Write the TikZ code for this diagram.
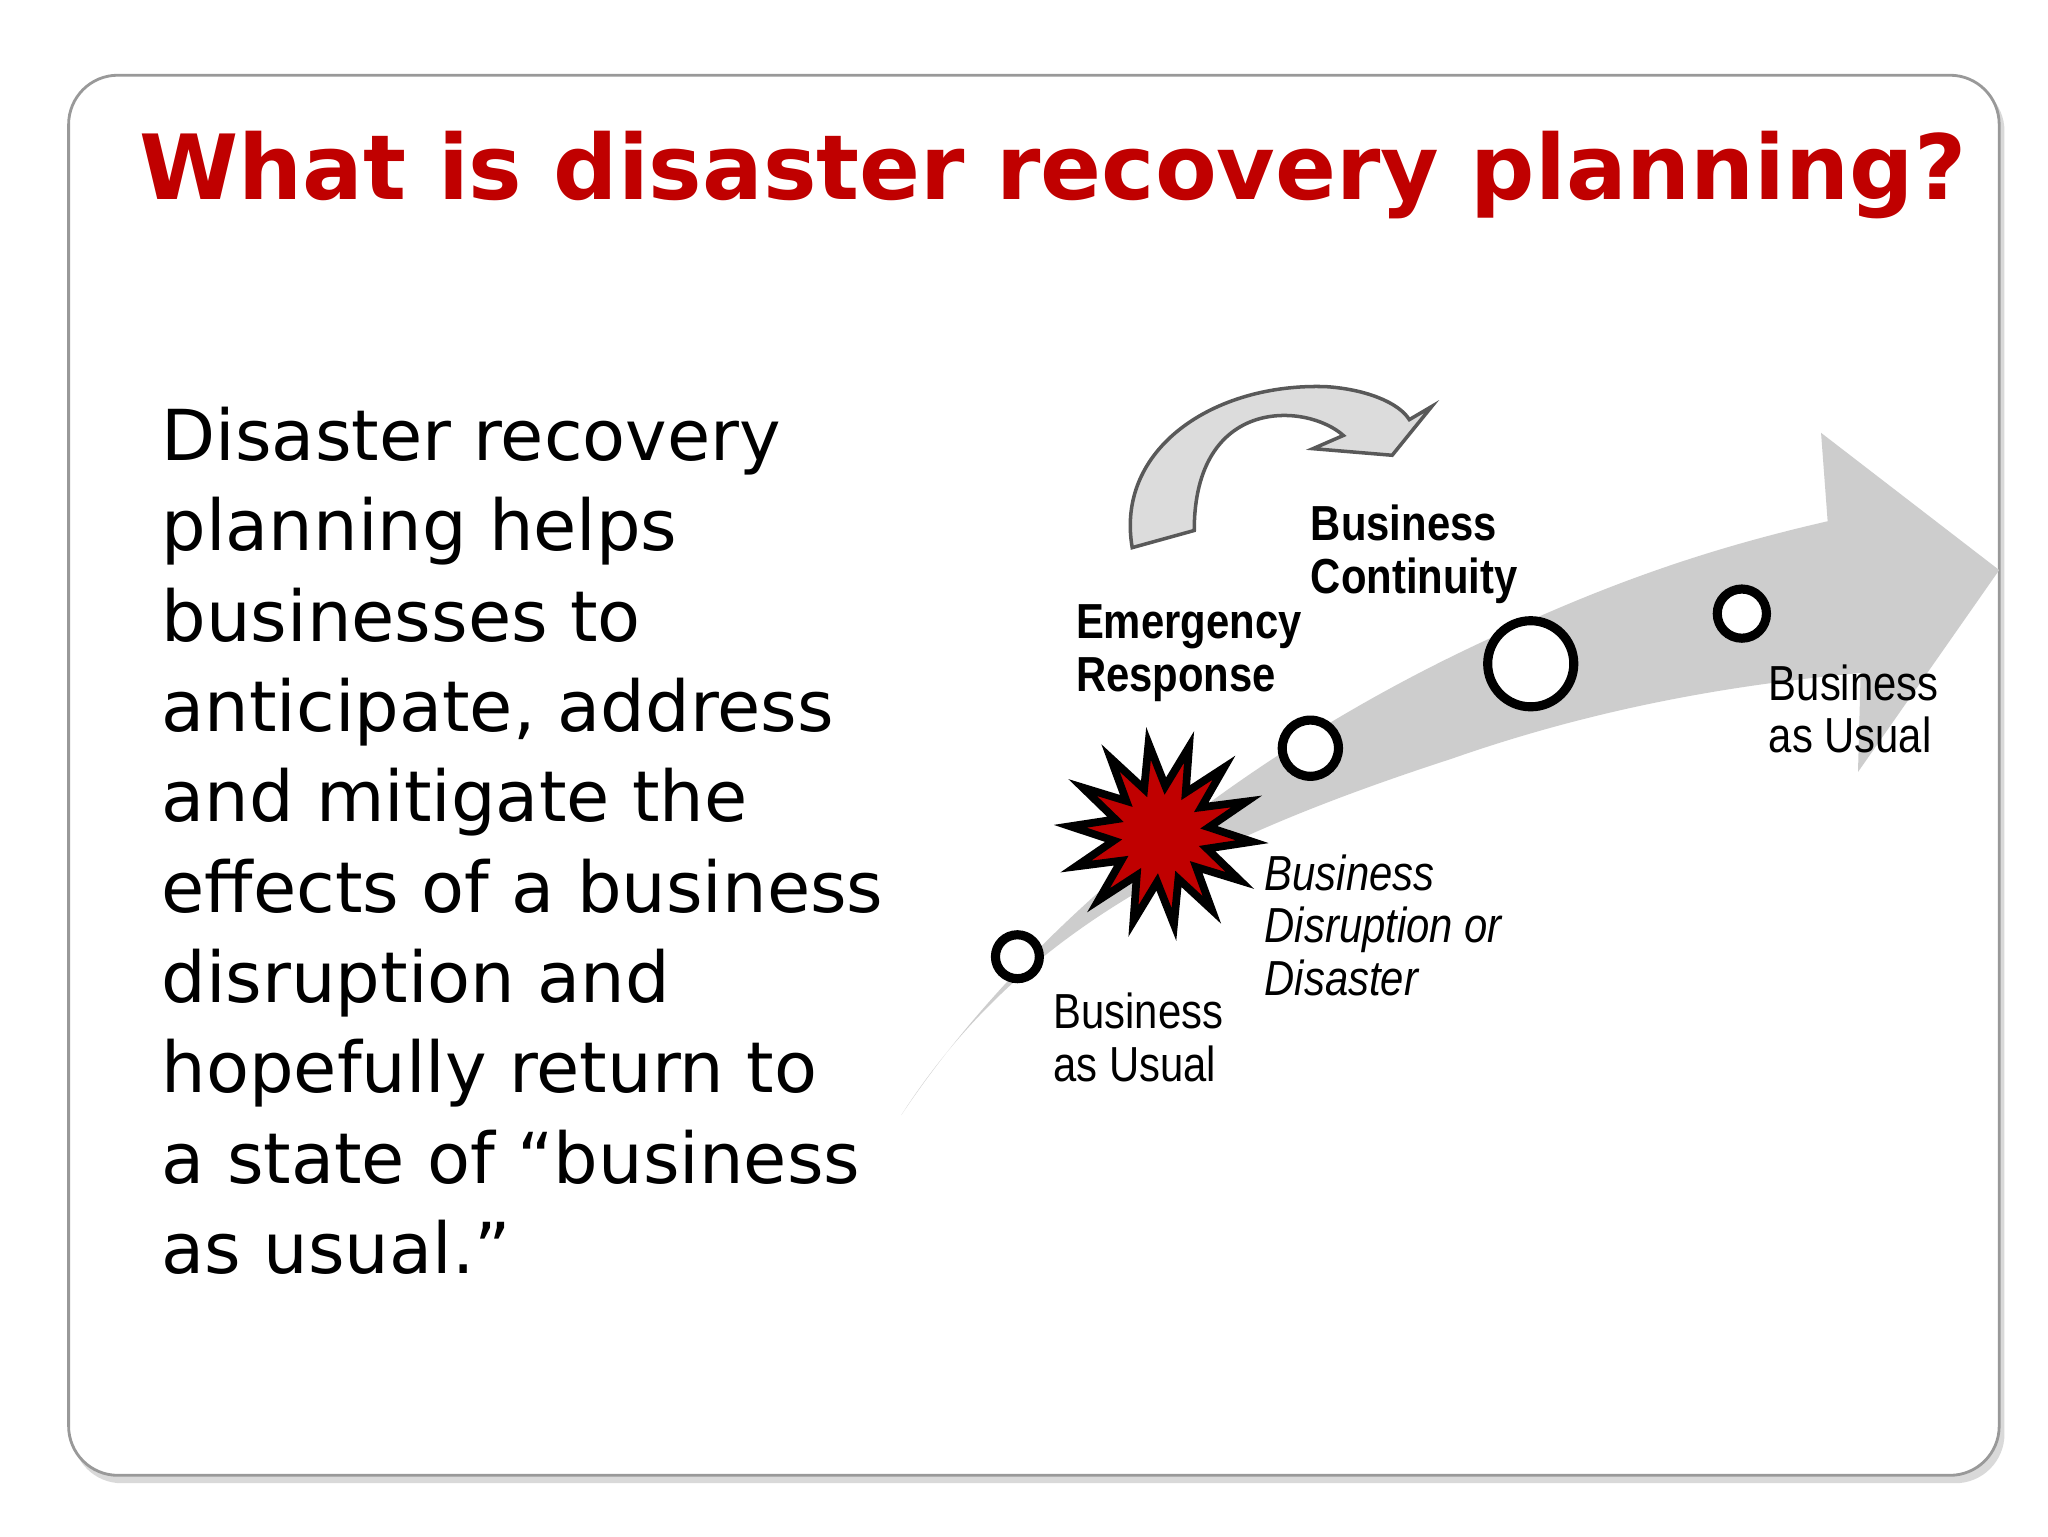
\documentclass[tikz,border=0pt]{standalone}
\usepackage{fontspec}
\setmainfont{DejaVu Sans}
\newfontfamily\lab{Liberation Sans}
\usetikzlibrary{shapes.geometric}
\definecolor{tred}{RGB}{192,0,0}
\definecolor{agray}{RGB}{205,205,205}
\tikzset{lbl/.style={anchor=north west,align=left,inner sep=0pt,font=\lab\fontsize{14pt}{15pt}\selectfont,xscale=0.85},
ring/.style={draw=black,line width=2.6pt,fill=white,circle,inner sep=0pt}}
\begin{document}
\begin{tikzpicture}[x=0.013196cm,y=-0.013196cm]
\useasboundingbox (0,0) rectangle (1552,1164);
\fill[white] (0,0) rectangle (1552,1164);
\fill[gray!30,rounded corners=14] (55,62) rectangle (1519,1124);
\draw[gray!80,fill=white,rounded corners=14,line width=0.8pt] (52,57) rectangle (1515,1118);
\node[font=\bfseries\fontsize{25.6pt}{30pt}\selectfont,text=tred,inner sep=0pt] (title) at (798,133) {What is disaster recovery planning?};
\node[anchor=north west,align=left,inner sep=0pt,font=\fontsize{20pt}{25.7pt}\selectfont] (body) at (122,308)
{Disaster recovery\\planning helps\\businesses to\\anticipate, address\\and mitigate the\\effects of a business\\disruption and\\hopefully return to\\a state of “business\\as usual.”};
% big arrow
\fill[agray] (683,845) .. controls (780,700) and (950,560) .. (1160,470)
 .. controls (1250,430) and (1320,410) .. (1385,395) -- (1380,328) -- (1515,432) -- (1408,585) -- (1410,510)
 .. controls (1300,520) and (1200,540) .. (1100,575)
 .. controls (900,640) and (770,710) .. (683,845) -- cycle;
% small curved arrow
\draw[gray!70!black,fill=agray!70,line width=1pt] (858,415) .. controls (845,340) and (920,290) .. (1005,293)
 .. controls (1035,295) and (1060,305) .. (1068,318) -- (1085,308) -- (1055,345) -- (995,340) -- (1018,330)
 .. controls (990,305) and (905,300) .. (905,402) -- cycle;
\node[ring,minimum size=12.5pt] (c1) at (771,725) {};
\node[ring,minimum size=16pt] (c2) at (993,567) {};
\node[ring,minimum size=24.5pt] (c3) at (1160,503) {};
\node[ring,minimum size=14pt] (c4) at (1320,465) {};
\node[star,star points=14,star point ratio=1.9,minimum size=52pt,draw=black,line width=2.2pt,fill=tred,rotate=8] (burst) at (880,632) {};
\node[lbl,font=\lab\bfseries\fontsize{14pt}{15pt}\selectfont] (bc) at (993,382) {Business\\Continuity};
\node[lbl,font=\lab\bfseries\fontsize{14pt}{15pt}\selectfont] (er) at (815,458) {Emergency\\Response};
\node[lbl] (bu2) at (1340,503) {Business\\as Usual};
\node[lbl,font=\lab\itshape\fontsize{14pt}{15pt}\selectfont] (bd) at (958,647) {Business\\Disruption or\\Disaster};
\node[lbl] (bu1) at (798,752) {Business\\as Usual};
\end{tikzpicture}
\end{document}
